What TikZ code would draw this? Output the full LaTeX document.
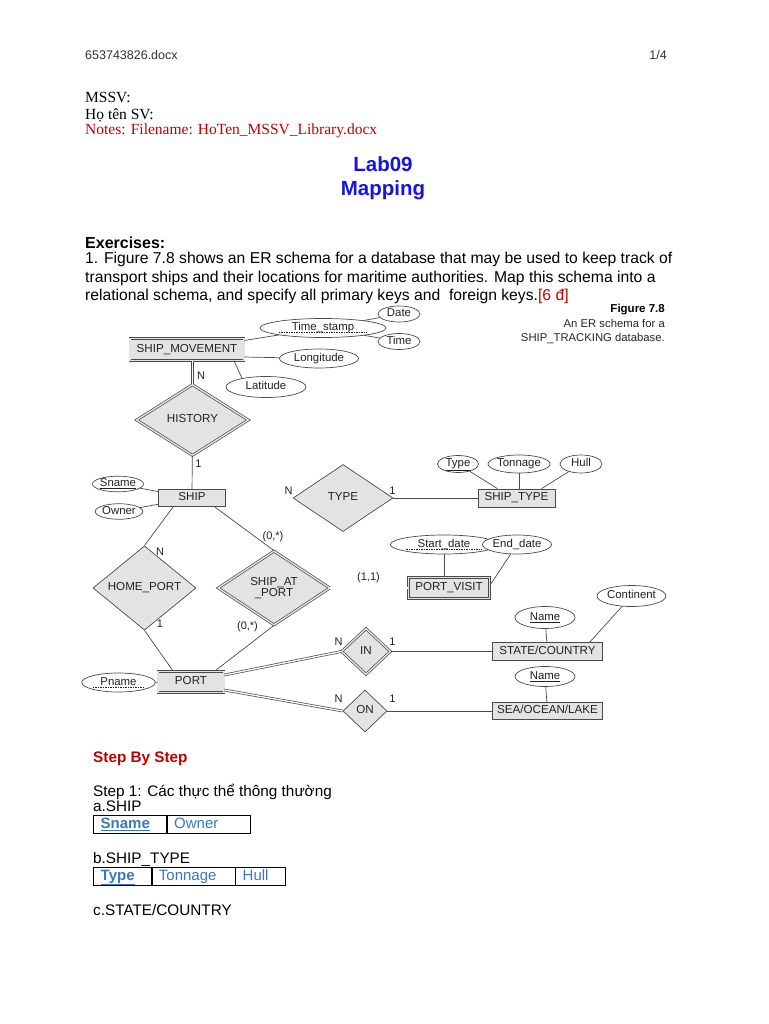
\documentclass[tikz,border=0pt]{standalone}
\usepackage{fontspec}
\setmainfont{Liberation Sans}
\newfontfamily\notesfont{Liberation Serif}
\usetikzlibrary{shapes.geometric}
\definecolor{erfill}{HTML}{E3E3E3}
\definecolor{erline}{HTML}{4A4A4A}
\definecolor{ertext}{HTML}{222222}
\definecolor{notered}{HTML}{C00000}
\definecolor{labblue}{HTML}{1414E6}
\definecolor{cellblue}{HTML}{3A78BE}
\newcommand\fsz[1]{\fontsize{#1}{#1}\selectfont}
\newcommand\dul[1]{\tikz[baseline=(dl.base)]{\node[inner sep=0pt] (dl) {#1};
  \draw[line width=0.5pt, dash pattern=on 1.5pt off 1pt] ([yshift=-1.6pt]dl.base west) -- ([yshift=-1.6pt]dl.base east);}}
\tikzset{
  ent/.style={draw=erline, fill=erfill, inner sep=0pt, font=\fsz{11.6}, text=ertext,
    text height=8.4pt, text depth=2.6pt},
  went/.style={ent, double=erfill, double distance=1.4pt},
  rel/.style={ent, diamond},
  wrel/.style={rel, double=erfill, double distance=1.4pt},
  attr/.style={draw=erline, fill=white, ellipse, inner sep=0pt, font=\fsz{11.4}, text=ertext,
    text height=8.4pt, text depth=2.6pt},
  dbl/.style={double=white, double distance=1.3pt},
  card/.style={font=\fsz{11}, text=ertext, inner sep=0pt},
  txt/.style={anchor=base west, inner sep=0pt},
  rtxt/.style={anchor=base east, inner sep=0pt},
  cell/.style={draw, line width=0.8pt, anchor=west, inner xsep=7pt, inner ysep=0pt,
    align=left, font=\fsz{15}, text=cellblue, text height=10.8pt, text depth=3.2pt}
}
\begin{document}
\begin{tikzpicture}[x=1pt, y=-1pt]
\useasboundingbox[fill=white] (0,0) rectangle (768,1024);

% page head
\node[txt, font=\fsz{12.5}, text=black!80] (file) at (85,59.5) {653743826.docx};
\node[rtxt, font=\fsz{12.5}, text=black!80] (page) at (667,59.5) {1/4};
\node[txt, font=\notesfont\fsz{15.5}] (mssv) at (85,103) {MSSV:};
\node[txt, font=\notesfont\fsz{15.5}] (hoten) at (85,120) {Họ tên SV:};
\node[txt, font=\notesfont\fsz{15.5}, text=notered] (notes) at (85,135) {Notes: Filename: HoTen\_MSSV\_Library.docx};
\node[anchor=base, inner sep=0pt, font=\bfseries\fsz{20.5}, text=labblue] (lab) at (383,172) {Lab09};
\node[anchor=base, inner sep=0pt, font=\bfseries\fsz{20.5}, text=labblue] (map) at (383,196) {Mapping};

\node[txt, font=\bfseries\fsz{16}] (ex) at (85,248) {Exercises:};
\node[txt, font=\fsz{15.7}] (l1) at (85,263.5) {1. Figure 7.8 shows an ER schema for a database that may be used to keep track of};
\node[txt, font=\fsz{15.7}] (l2) at (85,282) {transport ships and their locations for maritime authorities. Map this schema into a};
\node[txt, font=\fsz{15.7}] (l3) at (85,300.5) {relational schema, and specify all primary keys and~ foreign keys.\textcolor{notered}{[6 đ]}};

\node[rtxt, font=\bfseries\fsz{11.5}] (fig) at (665,312.5) {Figure 7.8};
\node[rtxt, font=\fsz{11.3}, text=black!85] (cap1) at (665,327) {An ER schema for a};
\node[rtxt, font=\fsz{11.3}, text=black!85] (cap2) at (665,341) {SHIP\_TRACKING database.};

% ER schema
\begin{scope}[color=erline, line width=0.7pt]
\node[went, minimum width=114pt, minimum height=21.5pt] (sm) at (187,349.5) {SHIP\_MOVEMENT};
\node[attr, minimum width=87pt, minimum height=19pt] (ts) at (323,328) {\dul{Time\_stamp}};
\node[attr, minimum width=42pt, minimum height=16pt] (date) at (399,314) {Date};
\node[attr, minimum width=42pt, minimum height=16pt] (time) at (399,341.5) {Time};
\node[attr, minimum width=79pt, minimum height=19pt] (lon) at (319,358.5) {Longitude};
\node[attr, minimum width=80pt, minimum height=21pt] (lat) at (266,387) {Latitude};
\node[wrel, minimum width=112pt, minimum height=71pt] (hist) at (192.5,420) {HISTORY};
\node[ent, minimum width=67pt, minimum height=17.5pt] (ship) at (192,498) {SHIP};
\node[attr, minimum width=48pt, minimum height=15pt] (sname) at (118,484) {\underline{Sname}};
\node[attr, minimum width=45pt, minimum height=15pt] (owner) at (119,511.5) {Owner};
\node[rel, minimum width=100pt, minimum height=67pt] (type) at (343,498) {TYPE};
\node[ent, minimum width=77pt, minimum height=18pt] (st) at (516.5,498) {SHIP\_TYPE};
\node[attr, minimum width=41pt, minimum height=17pt] (ty) at (458,464) {\underline{Type}};
\node[attr, minimum width=62pt, minimum height=18pt] (ton) at (519,464) {Tonnage};
\node[attr, minimum width=42pt, minimum height=18pt] (hull) at (581,464) {Hull};
\node[rel, minimum width=103pt, minimum height=68pt] (hp) at (144.5,588) {HOME\_PORT};
\node[wrel, minimum width=112pt, minimum height=74pt, align=center, text height=, text depth=] (sap) at (274,588) {SHIP\_AT\\\_PORT};
\node[went, minimum width=81.5pt, minimum height=21.5pt] (pv) at (449,588) {PORT\_VISIT};
\node[attr, minimum width=75pt, minimum height=19pt] (sd) at (444,544.5) {\dul{Start\_date}};
\node[attr, minimum width=59pt, minimum height=19pt] (ed) at (517,544.5) {End\_date};
\node[went, minimum width=66pt, minimum height=21.5pt] (port) at (191,682) {PORT};
\node[attr, minimum width=47pt, minimum height=19pt] (pn) at (118.5,682.5) {\dul{Pname}};
\node[wrel, minimum width=49pt, minimum height=46pt] (in) at (366,651.5) {IN};
\node[rel, minimum width=44pt, minimum height=42pt] (on) at (365,711) {ON};
\node[ent, minimum width=110pt, minimum height=17.5pt] (sc) at (547.5,651.5) {STATE/COUNTRY};
\node[attr, minimum width=60pt, minimum height=22pt] (scn) at (545,617.5) {\underline{Name}};
\node[attr, minimum width=60pt, minimum height=21pt] (cont) at (631.5,596) {Continent};
\node[ent, minimum width=110pt, minimum height=17.5pt] (sol) at (547.5,711) {SEA/OCEAN/LAKE};
\node[attr, minimum width=60pt, minimum height=20pt] (soln) at (545,676.5) {\underline{Name}};

\draw[dbl] (sm.south -| hist.north) -- (hist.north);
\draw (hist) -- (ship);
\draw (sm) -- (ts);
\draw (ts) -- (date);
\draw (ts) -- (time);
\draw ([yshift=-7.5pt]sm.east) -- (lon);
\draw ([xshift=47pt]sm.south) -- (lat.160);
\draw (sname) -- (ship);
\draw (owner) -- (ship);
\draw[dbl] (ship) -- (type);
\draw (type) -- (st);
\draw (ty) -- ([xshift=-19pt]st.north);
\draw (ton) -- (ton |- st.north);
\draw (hull) -- ([xshift=25pt]st.north);
\draw ([xshift=-19pt]ship.south) -- (hp.north);
\draw ([xshift=23pt]ship.south) -- (sap.north);
\draw (hp.south) -- ([xshift=-18pt]port.north);
\draw (sap.south) -- ([xshift=24pt]port.north);
\draw[dbl] (sap.east) -- (pv.west);
\draw (sd) -- (sd |- pv.north);
\draw (ed) -- ([yshift=3pt]pv.east);
\draw (pn) -- (port);
\draw[dbl] ([yshift=7pt]port.east) -- (in.west);
\draw[dbl] ([yshift=-8pt]port.east) -- (on.west);
\draw (in) -- (sc);
\draw (on) -- (sol);
\draw (scn) -- (sc);
\draw (cont) -- ([xshift=42pt]sc.north);
\draw (soln) -- (sol);

\node[card] (c1) at (201,376) {N};
\node[card] (c2) at (198.5,464) {1};
\node[card] (c3) at (288.5,490.5) {N};
\node[card] (c4) at (392.5,490.5) {1};
\node[card] (c5) at (273,536.5) {(0,*)};
\node[card] (c6) at (160,551.5) {N};
\node[card] (c7) at (160,624) {1};
\node[card] (c8) at (247.5,626.5) {(0,*)};
\node[card] (c9) at (368.5,577.5) {(1,1)};
\node[card] (c10) at (338.5,641.5) {N};
\node[card] (c11) at (392.5,641.5) {1};
\node[card] (c12) at (338.5,698.5) {N};
\node[card] (c13) at (392.5,698.5) {1};
\end{scope}

% step by step
\node[txt, font=\bfseries\fsz{15.3}, text=notered] (sbs) at (93,762.5) {Step By Step};
\node[txt, font=\fsz{15.3}] (s1) at (93,796.5) {Step 1: Các thực thể thông thường};
\node[txt, font=\fsz{15.3}] (ta) at (93,811.5) {a.SHIP};
\node[cell, text width=58.7pt, minimum height=17.5pt] (t1a) at (93.3,824.6) {\textbf{\underline{Sname}}};
\node[cell, text width=69pt, minimum height=17.5pt] (t1b) at (t1a.east) {Owner};
\node[txt, font=\fsz{15.3}] (tb) at (93,863.5) {b.SHIP\_TYPE};
\node[cell, text width=43.4pt, minimum height=18pt] (t2a) at (93.3,876.3) {\textbf{\underline{Type}}};
\node[cell, text width=69pt, minimum height=18pt] (t2b) at (t2a.east) {Tonnage};
\node[cell, text width=35.6pt, minimum height=18pt] (t2c) at (t2b.east) {Hull};
\node[txt, font=\fsz{15.3}] (tc) at (93,915.5) {c.STATE/COUNTRY};
\end{tikzpicture}
\end{document}
